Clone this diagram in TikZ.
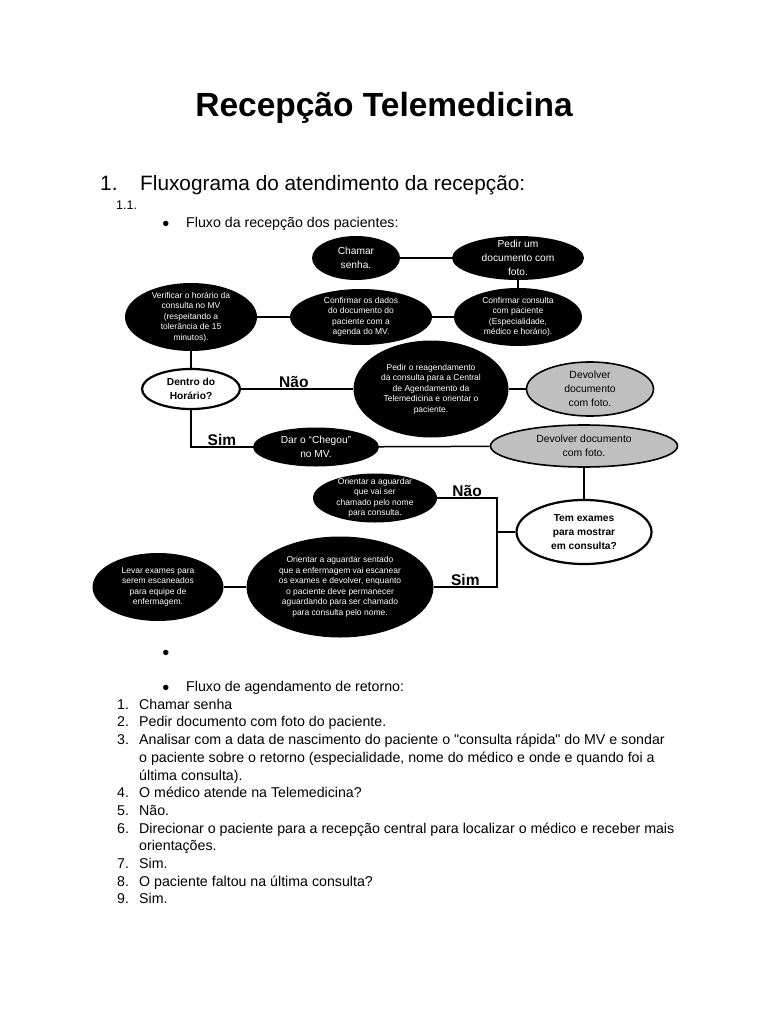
\documentclass[tikz,border=0pt]{standalone}
\usepackage{fontspec}
\setmainfont{Liberation Sans}
\usetikzlibrary{shapes.geometric}

\begin{document}
\begin{tikzpicture}[
  x=1pt, y=-1pt,
  body/.style={anchor=base west, inner sep=0pt, font=\fontsize{14.2}{17.7}\selectfont},
  dark/.style={ellipse, fill=black, text=white, align=center, inner sep=0pt, font=\fontsize{8.5}{10.5}\selectfont},
  darkbig/.style={dark, font=\fontsize{10.2}{14}\selectfont},
  grey/.style={ellipse, draw, line width=1.6pt, fill=black!25, align=center, inner sep=0pt, font=\fontsize{10.4}{14}\selectfont},
  ask/.style={ellipse, draw, line width=2.2pt, fill=white, align=center, inner sep=0pt, font=\bfseries\fontsize{10.2}{13.7}\selectfont},
  link/.style={line width=1.5pt},
  answer/.style={inner sep=0pt, font=\bfseries\fontsize{15.5}{16}\selectfont}
]
\path[use as bounding box, fill=white] (0,0) rectangle (768,1024);

\node[anchor=base, inner sep=0pt, font=\bfseries\fontsize{33.5}{40}\selectfont] (title) at (384,117) {Recepção Telemedicina};
\node[anchor=base west, inner sep=0pt, font=\fontsize{20.8}{24}\selectfont] (h1num) at (100,191) {1.};
\node[anchor=base west, inner sep=0pt, font=\fontsize{20.8}{24}\selectfont] (h1) at (140,191) {Fluxograma do atendimento da recepção:};
\node[body, font=\fontsize{12.5}{15}\selectfont] (h11) at (116,210) {1.1.};
\node[body, font=\fontsize{12.5}{15}\selectfont] (b1) at (162,227) {●};
\node[body] (fluxo1) at (186,227) {Fluxo da recepção dos pacientes:};

\node[darkbig, minimum width=88pt, minimum height=44pt] (chamar) at (356,258) {Chamar\\senha.};
\node[darkbig, minimum width=132pt, minimum height=44pt, inner ysep=-4pt] (pedir) at (518,258) {Pedir um\\documento com\\foto.};
\node[dark, minimum width=132pt, minimum height=68pt, inner ysep=-2pt] (verificar) at (191,317) {Verificar o horário da\\consulta no MV\\(respeitando a\\tolerância de 15\\minutos).};
\node[dark, minimum width=142pt, minimum height=56pt, inner ysep=-1pt] (dados) at (361,317) {Confirmar os dados\\do documento do\\paciente com a\\agenda do MV.};
\node[dark, minimum width=128pt, minimum height=58pt, inner ysep=-1pt] (consulta) at (518,317) {Confirmar consulta\\com paciente\\(Especialidade,\\médico e horário).};
\node[ask, minimum width=98pt, minimum height=40pt] (dentro) at (191,389) {Dentro do\\Horário?};
\node[dark, minimum width=155pt, minimum height=97pt] (reag) at (431,389) {Pedir o reagendamento\\da consulta para a Central\\de Agendamento da\\Telemedicina e orientar o\\paciente.};
\node[grey, minimum width=127pt, minimum height=54pt, inner ysep=-1pt] (devolver) at (590,389) {Devolver\\documento\\com foto.};
\node[darkbig, minimum width=126pt, minimum height=39pt] (chegou) at (316,447) {Dar o “Chegou”\\no MV.};
\node[grey, minimum width=187pt, minimum height=42pt] (devolverb) at (584,446) {Devolver documento\\com foto.};
\node[ask, minimum width=135pt, minimum height=64pt] (exames) at (584,532) {Tem exames\\para mostrar\\em consulta?};
\node[dark, minimum width=124pt, minimum height=49pt, inner ysep=-3pt] (aguardar) at (375,498) {Orientar a aguardar\\que vai ser\\chamado pelo nome\\para consulta.};
\node[dark, minimum width=187pt, minimum height=101pt] (sentado) at (340,587) {Orientar a aguardar sentado\\que a enfermagem vai escanear\\os exames e devolver, enquanto\\o paciente deve permanecer\\aguardando para ser chamado\\para consulta pelo nome.};
\node[dark, minimum width=131pt, minimum height=68pt] (levar) at (158,587) {Levar exames para\\serem escaneados\\para equipe de\\enfermagem.};
\coordinate (split) at (497,532);

\draw[link] (chamar) -- (pedir);
\draw[link] (pedir) -- (consulta);
\draw[link] (consulta) -- (dados);
\draw[link] (dados) -- (verificar);
\draw[link] (verificar) -- (dentro);
\draw[link] (dentro) -- node[answer, above=1pt, pos=0.47] {Não} (reag);
\draw[link] (reag) -- (devolver);
\draw[link] (dentro) |- node[answer, above=1pt, pos=0.75] {Sim} (chegou);
\draw[link] (chegou) -- (devolverb);
\draw[link] (devolverb) -- (exames);
\draw[link] (exames) -- (split);
\draw[link] (aguardar) -| node[answer, above=1pt, pos=0.25] {Não} (split);
\draw[link] (split) |- node[answer, above=1pt, pos=0.75] {Sim} (sentado);
\draw[link] (levar) -- (sentado);

\node[body, font=\fontsize{12.5}{15}\selectfont] (b2) at (162,656) {●};
\node[body, font=\fontsize{12.5}{15}\selectfont] (b3) at (162,691) {●};
\node[body] (fluxo2) at (186,691) {Fluxo de agendamento de retorno:};
\node[body] (n1) at (117,709) {1.};
\node[body] (i1) at (139,709) {Chamar senha};
\node[body] (n2) at (117,726) {2.};
\node[body] (i2) at (139,726) {Pedir documento com foto do paciente.};
\node[body] (n3) at (117,744) {3.};
\node[body] (i3a) at (139,744) {Analisar com a data de nascimento do paciente o \textquotedbl consulta rápida\textquotedbl{} do MV e sondar};
\node[body] (i3b) at (139,762) {o paciente sobre o retorno (especialidade, nome do médico e onde e quando foi a};
\node[body] (i3c) at (139,780) {última consulta).};
\node[body] (n4) at (117,797) {4.};
\node[body] (i4) at (139,797) {O médico atende na Telemedicina?};
\node[body] (n5) at (117,815) {5.};
\node[body] (i5) at (139,815) {Não.};
\node[body] (n6) at (117,833) {6.};
\node[body] (i6a) at (139,833) {Direcionar o paciente para a recepção central para localizar o médico e receber mais};
\node[body] (i6b) at (139,850) {orientações.};
\node[body] (n7) at (117,868) {7.};
\node[body] (i7) at (139,868) {Sim.};
\node[body] (n8) at (117,886) {8.};
\node[body] (i8) at (139,886) {O paciente faltou na última consulta?};
\node[body] (n9) at (117,903) {9.};
\node[body] (i9) at (139,903) {Sim.};
\end{tikzpicture}
\end{document}
